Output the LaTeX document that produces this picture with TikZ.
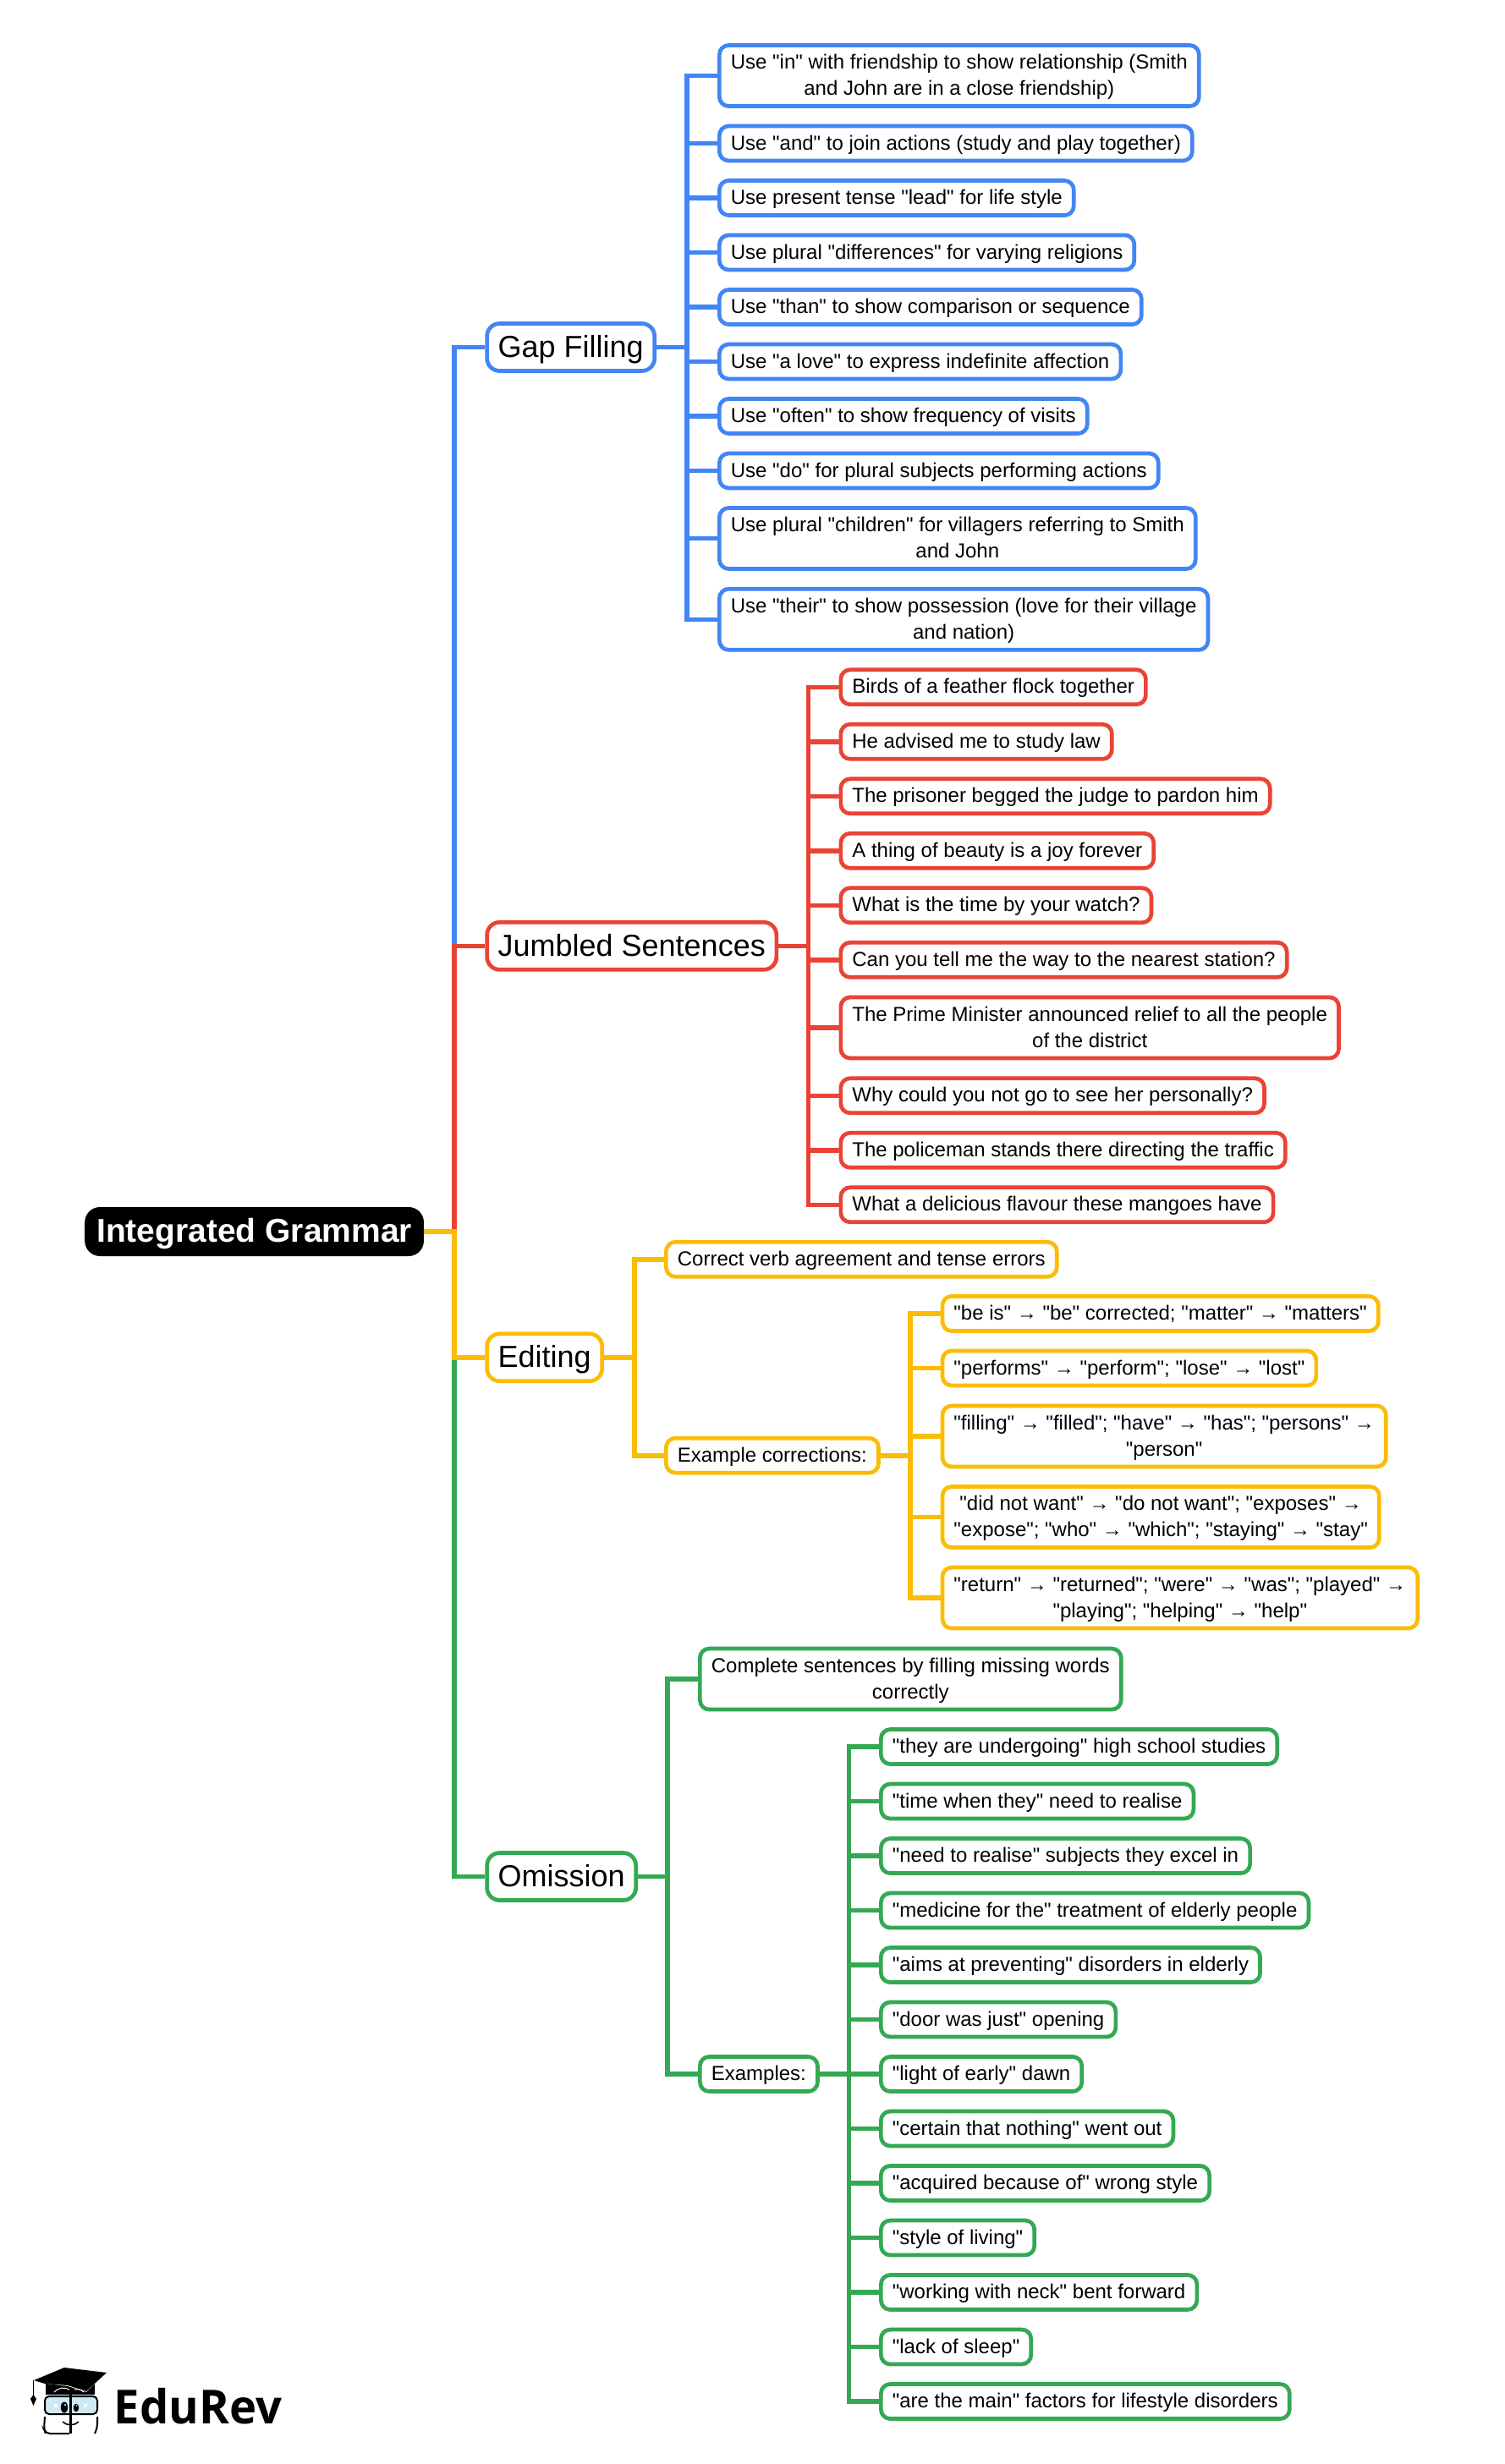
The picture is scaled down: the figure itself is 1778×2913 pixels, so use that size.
\documentclass[tikz,border=0pt]{standalone}
\usepackage{fontspec}
\newfontfamily\plainsans{Liberation Sans}
\newfontfamily\logofont{Open Sans}
\definecolor{gblue}{HTML}{4285F4}
\definecolor{gred}{HTML}{EA4335}
\definecolor{gyellow}{HTML}{FBBC04}
\definecolor{ggreen}{HTML}{34A853}
\definecolor{glass}{HTML}{CFE8F5}
\newcommand\tl{\rule{0pt}{28pt}}
\newcommand\bl{\rule[-13pt]{0pt}{13pt}}
\tikzset{
  basebox/.style={draw=#1,line width=4.7pt,fill=white,rounded corners=11pt,anchor=west,inner ysep=0pt},
  leaf/.style={basebox=#1,inner xsep=13.5pt,minimum height=41pt,
    font=\plainsans\fontsize{24}{31}\selectfont,
    execute at begin node={\tl},execute at end node={\bl}},
  leaftwo/.style={basebox=#1,inner xsep=13.5pt,align=center,
    font=\plainsans\fontsize{24}{31}\selectfont},
  branch/.style={basebox=#1,inner xsep=13pt,rounded corners=15pt,minimum height=56pt,
    font=\plainsans\fontsize{36}{40}\selectfont,
    execute at begin node={\rule{0pt}{40pt}},execute at end node={\rule[-16pt]{0pt}{16pt}}},
  rootbox/.style={fill=black,text=white,rounded corners=18pt,anchor=west,inner xsep=14pt,inner ysep=0pt,
    minimum height=58pt,font=\plainsans\fontsize{39}{42}\bfseries\selectfont,
    execute at begin node={\rule{0pt}{41pt}},execute at end node={\rule[-17pt]{0pt}{17pt}}},
  link/.style={draw=#1,line width=5.6pt,line join=miter},
  logoline/.style={draw=black,line width=2pt,fill=none}
}
\begin{document}
\begin{tikzpicture}[x=1pt,y=-1pt]
\useasboundingbox[fill=white] (0,0) rectangle (1778,2913);
% root and branches
\node[rootbox] (root) at (100,1456) {Integrated Grammar};
\node[branch=gblue] (gap) at (573.3,410.5) {Gap Filling};
\node[branch=gred] (jum) at (573.3,1118.3) {Jumbled Sentences};
\node[branch=gyellow] (edi) at (573.3,1604.8) {Editing};
\node[branch=ggreen] (omi) at (573.3,2218.5) {Omission};
% blue leaves
\node[leaftwo=gblue] (b1) at (848,89.5) {\tl Use "in" with friendship to show relationship (Smith\\and John are in a close friendship)\bl};
\node[leaf=gblue] (b2) at (848,169.5) {Use "and" to join actions (study and play together)};
\node[leaf=gblue] (b3) at (848,234) {Use present tense "lead" for life style};
\node[leaf=gblue] (b4) at (848,298.5) {Use plural "differences" for varying religions};
\node[leaf=gblue] (b5) at (848,363) {Use "than" to show comparison or sequence};
\node[leaf=gblue] (b6) at (848,427.5) {Use "a love" to express indefinite affection};
\node[leaf=gblue] (b7) at (848,492) {Use "often" to show frequency of visits};
\node[leaf=gblue] (b8) at (848,556.5) {Use "do" for plural subjects performing actions};
\node[leaftwo=gblue] (b9) at (848,636.5) {\tl Use plural "children" for villagers referring to Smith\\and John\bl};
\node[leaftwo=gblue] (b10) at (848,732.3) {\tl Use "their" to show possession (love for their village\\and nation)\bl};
% red leaves
\node[leaf=gred] (r1) at (991.5,812.3) {Birds of a feather flock together};
\node[leaf=gred] (r2) at (991.5,876.8) {He advised me to study law};
\node[leaf=gred] (r3) at (991.5,941.3) {The prisoner begged the judge to pardon him};
\node[leaf=gred] (r4) at (991.5,1005.8) {A thing of beauty is a joy forever};
\node[leaf=gred] (r5) at (991.5,1070.3) {What is the time by your watch?};
\node[leaf=gred] (r6) at (991.5,1134.8) {Can you tell me the way to the nearest station?};
\node[leaftwo=gred] (r7) at (991.5,1215) {\tl The Prime Minister announced relief to all the people\\of the district\bl};
\node[leaf=gred] (r8) at (991.5,1295.3) {Why could you not go to see her personally?};
\node[leaf=gred] (r9) at (991.5,1359.8) {The policeman stands there directing the traffic};
\node[leaf=gred] (r10) at (991.5,1424.3) {What a delicious flavour these mangoes have};
% yellow leaves
\node[leaf=gyellow] (y1) at (785,1488.8) {Correct verb agreement and tense errors};
\node[leaf=gyellow] (y2) at (785,1720.7) {Example corrections:};
\node[leaf=gyellow] (ya) at (1111.6,1553) {"be is" → "be" corrected; "matter" → "matters"};
\node[leaf=gyellow] (yb) at (1111.6,1617.5) {"performs" → "perform"; "lose" → "lost"};
\node[leaftwo=gyellow] (yc) at (1111.6,1698) {\tl "filling" → "filled"; "have" → "has"; "persons" →\\"person"\bl};
\node[leaftwo=gyellow] (yd) at (1111.6,1793.5) {\tl "did not want" → "do not want"; "exposes" →\\"expose"; "who" → "which"; "staying" → "stay"\bl};
\node[leaftwo=gyellow] (ye) at (1111.6,1889) {\tl "return" → "returned"; "were" → "was"; "played" →\\"playing"; "helping" → "help"\bl};
% green leaves
\node[leaftwo=ggreen] (g1) at (825,1985) {\tl Complete sentences by filling missing words\\correctly\bl};
\node[leaf=ggreen] (g2) at (825,2452) {Examples:};
\node[leaf=ggreen] (ga) at (1039,2065) {"they are undergoing" high school studies};
\node[leaf=ggreen] (gb) at (1039,2129.5) {"time when they" need to realise};
\node[leaf=ggreen] (gc) at (1039,2194) {"need to realise" subjects they excel in};
\node[leaf=ggreen] (gd) at (1039,2258.5) {"medicine for the" treatment of elderly people};
\node[leaf=ggreen] (ge) at (1039,2323) {"aims at preventing" disorders in elderly};
\node[leaf=ggreen] (gf) at (1039,2387.5) {"door was just" opening};
\node[leaf=ggreen] (gg) at (1039,2452) {"light of early" dawn};
\node[leaf=ggreen] (gh) at (1039,2516.5) {"certain that nothing" went out};
\node[leaf=ggreen] (gi) at (1039,2581) {"acquired because of" wrong style};
\node[leaf=ggreen] (gj) at (1039,2645.5) {"style of living"};
\node[leaf=ggreen] (gk) at (1039,2710) {"working with neck" bent forward};
\node[leaf=ggreen] (gl) at (1039,2774.5) {"lack of sleep"};
\node[leaf=ggreen] (gm) at (1039,2839) {"are the main" factors for lifestyle disorders};
% bus coordinates
\coordinate (busT) at (537.2,0);
\coordinate (busB) at (811.7,0);
\coordinate (busR) at (955.5,0);
\coordinate (busY) at (749.7,0);
\coordinate (busYs) at (1075.9,0);
\coordinate (busG) at (789,0);
\coordinate (busGs) at (1003.3,0);
% connectors
\foreach \c in {b1,b2,b3,b4,b5,b6,b7,b8,b9,b10}
  \draw[link=gblue] (gap.east) -- (gap.east -| busB) |- (\c.west);
\foreach \c in {r1,r2,r3,r4,r5,r6,r7,r8,r9,r10}
  \draw[link=gred] (jum.east) -- (jum.east -| busR) |- (\c.west);
\foreach \c in {y1,y2}
  \draw[link=gyellow] (edi.east) -- (edi.east -| busY) |- (\c.west);
\foreach \c in {ya,yb,yc,yd,ye}
  \draw[link=gyellow] (y2.east) -- (y2.east -| busYs) |- (\c.west);
\foreach \c in {g1,g2}
  \draw[link=ggreen] (omi.east) -- (omi.east -| busG) |- (\c.west);
\foreach \c in {ga,gb,gc,gd,ge,gf,gg,gh,gi,gj,gk,gl,gm}
  \draw[link=ggreen] (g2.east) -- (g2.east -| busGs) |- (\c.west);
\draw[link=gblue] (root.east) -- (root.east -| busT) |- (gap.west);
\draw[link=gred] (root.east) -- (root.east -| busT) |- (jum.west);
\draw[link=ggreen] (root.east) -- (root.east -| busT) |- (omi.west);
\draw[link=gyellow] (root.east) -- (root.east -| busT) |- (edi.west);
% logo
\fill[black] (40,2814) -- (76,2799) -- (126,2805) -- (102,2827) -- (80,2820) -- (53,2818) -- cycle;
\fill[black] (54,2818) -- (80,2821) -- (102,2828) -- (112,2818) -- (112,2830) -- (111,2831) -- (54,2831) -- cycle;
\draw[white,line width=1pt] (64,2828) .. controls (70,2822) and (76,2822) .. (82,2825);
\draw[white,line width=1pt] (88,2825) .. controls (92,2824) and (96,2825) .. (99,2828);
\draw[black,line width=1.3pt] (39.5,2814) -- (39.5,2832);
\fill[black] (39.5,2831) -- (43,2836) -- (39.5,2844) -- (36,2836) -- cycle;
\draw[draw=black,line width=2pt,fill=glass,rounded corners=5pt] (53,2833) rectangle (115,2854);
\draw[logoline,rounded corners=5pt] (53,2857) -- (52,2872) -- (54,2877) -- (82,2877);
\draw[logoline,rounded corners=5pt] (115,2857) -- (115,2870) -- (112,2877);
\draw[black,line width=2.4pt] (83.5,2830) -- (83.5,2877);
\fill[black] (76,2846) ellipse [x radius=4.2pt,y radius=6.5pt];
\fill[black] (90,2846.5) ellipse [x radius=3.2pt,y radius=4.8pt];
\fill[white] (77,2843) circle [radius=1.2pt];
\fill[white] (90.5,2844) circle [radius=0.9pt];
\fill[white] (64,2842) rectangle (68,2846);
\fill[white] (99,2842) rectangle (103,2846);
\draw[black,line width=1.6pt] (74,2863) .. controls (79,2868) and (88,2868) .. (93,2863);
\node[anchor=base west,inner sep=0pt,xscale=0.98,transform shape,font=\logofont\fontsize{55.5}{60}\bfseries\selectfont] (logo) at (134.5,2865) {EduRev};
\end{tikzpicture}
\end{document}
